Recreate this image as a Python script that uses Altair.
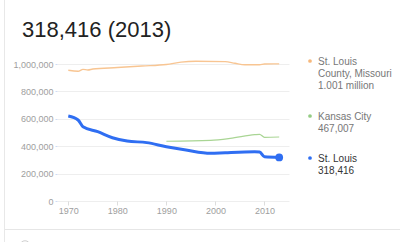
import altair as alt
import pandas as pd

# --- data ---
stl_years = [1970, 1972, 1973, 1976, 1979, 1982, 1986, 1990, 1994, 1999, 2002, 2008, 2009, 2010, 2013]
stl_values = [620000, 591000, 542000, 506000, 462000, 438000, 426000, 396000, 372000, 348000, 353000, 360000, 358000, 323000, 318416]

kc_years = [1990, 1999, 2003, 2008, 2009, 2010, 2013]
kc_values = [436000, 443000, 457000, 484000, 487000, 465000, 467007]

cty_years = [1970, 1972, 1973, 1974, 1975, 1980, 1985, 1990, 1993, 1996, 2002, 2004, 2006, 2009, 2010, 2013]
cty_values = [954000, 947000, 961000, 956000, 963000, 974000, 985000, 996000, 1014000, 1020000, 1017000, 1005000, 995000, 995000, 1000000, 1001000]

series_names = ["St. Louis County, Missouri", "Kansas City", "St. Louis"]
legend_labels = ["St. Louis\nCounty, Missouri\n1.001 million", "Kansas City\n467,007", "St. Louis\n318,416"]
series_colors = ["#f8c592", "#a9d594", "#2f6ef2"]
legend_dot_colors = ["#f6b87c", "#94cc84", "#2f6ef2"]
legend_text_colors = ["#777777", "#777777", "#333333"]

y_ticks = [0, 200000, 400000, 600000, 800000, 1000000]
x_ticks = [1970, 1980, 1990, 2000, 2010]
title_text = "318,416 (2013)"

rows = []
for yr, v in zip(cty_years, cty_values):
    rows.append({"year": yr, "value": v, "series": series_names[0]})
for yr, v in zip(kc_years, kc_values):
    rows.append({"year": yr, "value": v, "series": series_names[1]})
for yr, v in zip(stl_years, stl_values):
    rows.append({"year": yr, "value": v, "series": series_names[2]})
df = pd.DataFrame(rows)

xscale = alt.Scale(domain=[1967.7, 2015], nice=False, zero=False)
yscale = alt.Scale(domain=[0, 1000000], nice=False)

x_enc = alt.X("year:Q", scale=xscale, axis=alt.Axis(
    values=x_ticks, format="d", title=None, grid=False, domain=False,
    ticks=True, tickSize=4, tickColor="#dddddd", labelColor="#9e9e9e",
    labelFontSize=9, labelPadding=1, labelFont="Liberation Sans", labelOverlap=False))
y_enc = alt.Y("value:Q", scale=yscale, axis=alt.Axis(
    values=y_ticks, format=",.0f", title=None, grid=True, gridColor="#eeeeee",
    domain=False, ticks=True, tickSize=2, tickColor="#cfdcf5",
    labelColor="#9e9e9e", labelFontSize=9, labelPadding=2, labelFont="Liberation Sans",
    labelOverlap=False))

lines = []
widths = [1.4, 1.2, 3]
for name, col, w in zip(series_names, series_colors, widths):
    lines.append(
        alt.Chart(df[df.series == name]).mark_line(color=col, strokeWidth=w, interpolate="monotone")
        .encode(x=x_enc, y=y_enc)
    )

end_df = df[(df.series == series_names[2])].tail(1)
end_dot = alt.Chart(end_df).mark_circle(color=series_colors[2], size=60, opacity=1).encode(
    x=x_enc, y=y_enc)

title = alt.Chart(pd.DataFrame({"t": [title_text]})).mark_text(
    align="left", baseline="alphabetic", fontSize=22, font="Liberation Sans", color="#222222"
).encode(x=alt.value(-35), y=alt.value(-27), text="t:N")

legend_layers = []
tops = [-7, 48, 90]
for lab, dc, tc, top in zip(legend_labels, legend_dot_colors, legend_text_colors, tops):
    ldf = pd.DataFrame({"t": [lab]})
    legend_layers.append(alt.Chart(ldf).mark_circle(color=dc, size=14, opacity=1).encode(
        x=alt.value(253), y=alt.value(top + 4)))
    legend_layers.append(alt.Chart(ldf).mark_text(
        align="left", baseline="top", fontSize=10, font="Liberation Sans", color=tc,
        lineBreak="\n", lineHeight=12).encode(x=alt.value(261), y=alt.value(top), text="t:N"))

frame_v = alt.Chart(pd.DataFrame({"a": [0]})).mark_rule(color="#e8e8e8", strokeWidth=1).encode(
    x=alt.value(-52.5), y=alt.value(-64), y2=alt.value(178))
frame_h = alt.Chart(pd.DataFrame({"a": [0]})).mark_rule(color="#e6e6e6", strokeWidth=1).encode(
    x=alt.value(-52), x2=alt.value(343), y=alt.value(165.5))
icon = alt.Chart(pd.DataFrame({"a": [0]})).mark_point(color="#bbbbbb", size=110, strokeWidth=1, shape="circle").encode(
    x=alt.value(-32), y=alt.value(182))

chart = alt.layer(frame_v, frame_h, icon, *lines, end_dot, title, *legend_layers).properties(
    width=232, height=137,
    autosize=alt.AutoSizeParams(type="none"),
    padding={"left": 57, "top": 64, "right": 111, "bottom": 41},
    background="white",
).configure_view(stroke=None)

chart.save("out.html", embed_options={"renderer": "svg", "actions": False})
